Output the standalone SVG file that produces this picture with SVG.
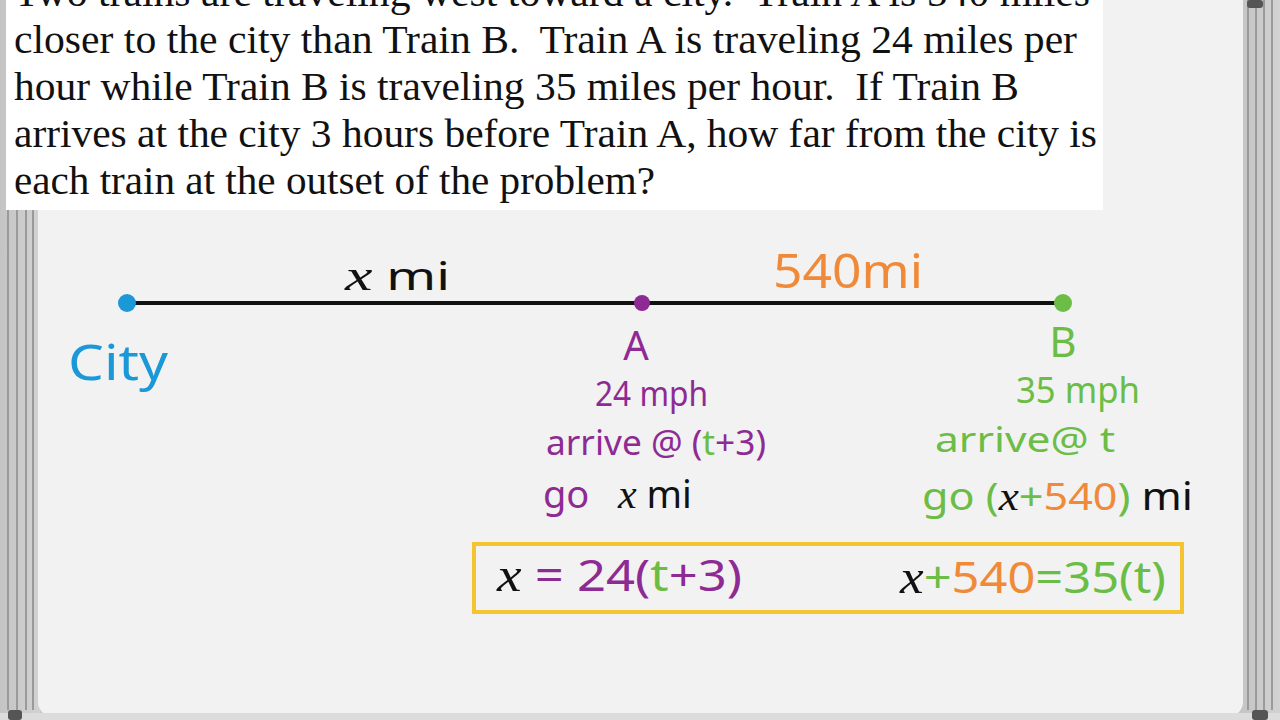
<svg xmlns="http://www.w3.org/2000/svg" width="1280" height="720" viewBox="0 0 1280 720">
<defs>
<style>
.q{font-family:"Liberation Serif","Times New Roman",serif;font-size:40px;fill:#111}
.h{font-family:"Noto Sans","DejaVu Sans",sans-serif;}
.pu{fill:#8e2a94}.gr{fill:#6bbd45}.or{fill:#f08a38}.bl{fill:#1a98d8}.bk{fill:#111}
.xv{font-family:"Liberation Serif",serif;font-style:italic}
.stripe{stroke:#9a9a9a;stroke-width:2}
</style>
<linearGradient id="frame" x1="0" x2="1" y1="0" y2="0">
<stop offset="0" stop-color="#c4c4c4"/><stop offset="1" stop-color="#d2d2d2"/>
</linearGradient>
</defs>
<rect x="0" y="0" width="1280" height="720" fill="#c9c9c9"/>
<g id="frame-left">
<rect x="0" y="0" width="40" height="720" fill="url(#frame)"/>
<line class="stripe" x1="8" y1="0" x2="8" y2="710"/>
<line class="stripe" x1="17" y1="0" x2="17" y2="710"/>
<line class="stripe" x1="26" y1="0" x2="26" y2="710"/>
<line class="stripe" x1="33" y1="0" x2="33" y2="710" stroke="#b0b0b0"/>
</g>
<g id="frame-right">
<rect x="1240" y="0" width="40" height="720" fill="url(#frame)"/>
<line class="stripe" x1="1248" y1="0" x2="1248" y2="710"/>
<line class="stripe" x1="1256" y1="0" x2="1256" y2="710"/>
<line class="stripe" x1="1264" y1="0" x2="1264" y2="710"/>
<line class="stripe" x1="1272" y1="0" x2="1272" y2="710"/>
<rect x="1247" y="0" width="16" height="8" rx="3" fill="#555"/>
</g>
<rect id="board" x="38" y="-20" width="1205" height="736" rx="14" fill="#f2f2f2"/>
<rect x="0" y="713" width="1280" height="7" fill="#dcdcdc"/>
<rect x="8" y="710" width="14" height="10" rx="3" fill="#555"/>
<rect x="1252" y="710" width="16" height="10" rx="3" fill="#555"/>

<g id="problem">
<rect x="6" y="0" width="1097" height="210" fill="#ffffff"/>
<text class="q" x="14" y="6" textLength="1076" lengthAdjust="spacingAndGlyphs">Two trains are traveling west toward a city.&#160; Train A is 540 miles</text>
<text class="q" x="14" y="53" textLength="1063" lengthAdjust="spacingAndGlyphs">closer to the city than Train B.&#160; Train A is traveling 24 miles per</text>
<text class="q" x="14" y="100" textLength="1005" lengthAdjust="spacingAndGlyphs">hour while Train B is traveling 35 miles per hour.&#160; If Train B</text>
<text class="q" x="14" y="147" textLength="1083" lengthAdjust="spacingAndGlyphs">arrives at the city 3 hours before Train A, how far from the city is</text>
<text class="q" x="14" y="194" textLength="641" lengthAdjust="spacingAndGlyphs">each train at the outset of the problem?</text>
</g>

<g id="connectors">
<line x1="127" y1="303" x2="1063" y2="303" stroke="#111" stroke-width="4"/>
<text class="h bk" x="345" y="290" font-size="38" textLength="105" lengthAdjust="spacingAndGlyphs"><tspan class="xv" font-size="44">x</tspan> mi</text>
<text class="h or" x="773" y="288" font-size="48" textLength="150" lengthAdjust="spacingAndGlyphs">540mi</text>
</g>

<g id="city">
<circle cx="127" cy="303" r="9" fill="#1a98d8"/>
<text class="h bl" x="68" y="380" font-size="50" textLength="100" lengthAdjust="spacingAndGlyphs">City</text>
</g>

<g id="train-a">
<circle cx="642" cy="303" r="8" fill="#8e2a94"/>
<text class="h pu" x="636" y="360" font-size="40" text-anchor="middle">A</text>
<text class="h pu" x="595" y="406" font-size="34" textLength="113" lengthAdjust="spacingAndGlyphs">24 mph</text>
<text class="h pu" x="546" y="455" font-size="34" textLength="220" lengthAdjust="spacingAndGlyphs">arrive @ (<tspan class="gr">t</tspan>+3)</text>
<text class="h pu" x="543" y="508" font-size="38">go</text>
<text class="h bk" x="618" y="508" font-size="38"><tspan class="xv" font-size="42">x</tspan>  mi</text>
</g>

<g id="train-b">
<circle cx="1063" cy="303" r="9" fill="#6bbd45"/>
<text class="h gr" x="1063" y="357" font-size="42" text-anchor="middle">B</text>
<text class="h gr" x="1016" y="403" font-size="36" textLength="124" lengthAdjust="spacingAndGlyphs">35 mph</text>
<text class="h gr" x="935" y="452" font-size="34" textLength="180" lengthAdjust="spacingAndGlyphs">arrive@ t</text>
<text class="h gr" x="922" y="510" font-size="38" textLength="271" lengthAdjust="spacingAndGlyphs">go (<tspan class="bk xv" font-size="40">x</tspan>+<tspan class="or">540</tspan>) <tspan class="bk">mi</tspan></text>
</g>

<g id="equations">
<rect x="474" y="544" width="708" height="68" fill="none" stroke="#f5c431" stroke-width="4"/>
<text class="h pu" x="497" y="591" font-size="44" textLength="245" lengthAdjust="spacingAndGlyphs"><tspan class="bk xv" font-size="48">x</tspan> = 24(<tspan class="gr">t</tspan>+3)</text>
<text class="h gr" x="900" y="593" font-size="44" textLength="266" lengthAdjust="spacingAndGlyphs"><tspan class="bk xv" font-size="48">x</tspan>+<tspan class="or">540</tspan>=35(t)</text>
</g>
</svg>
